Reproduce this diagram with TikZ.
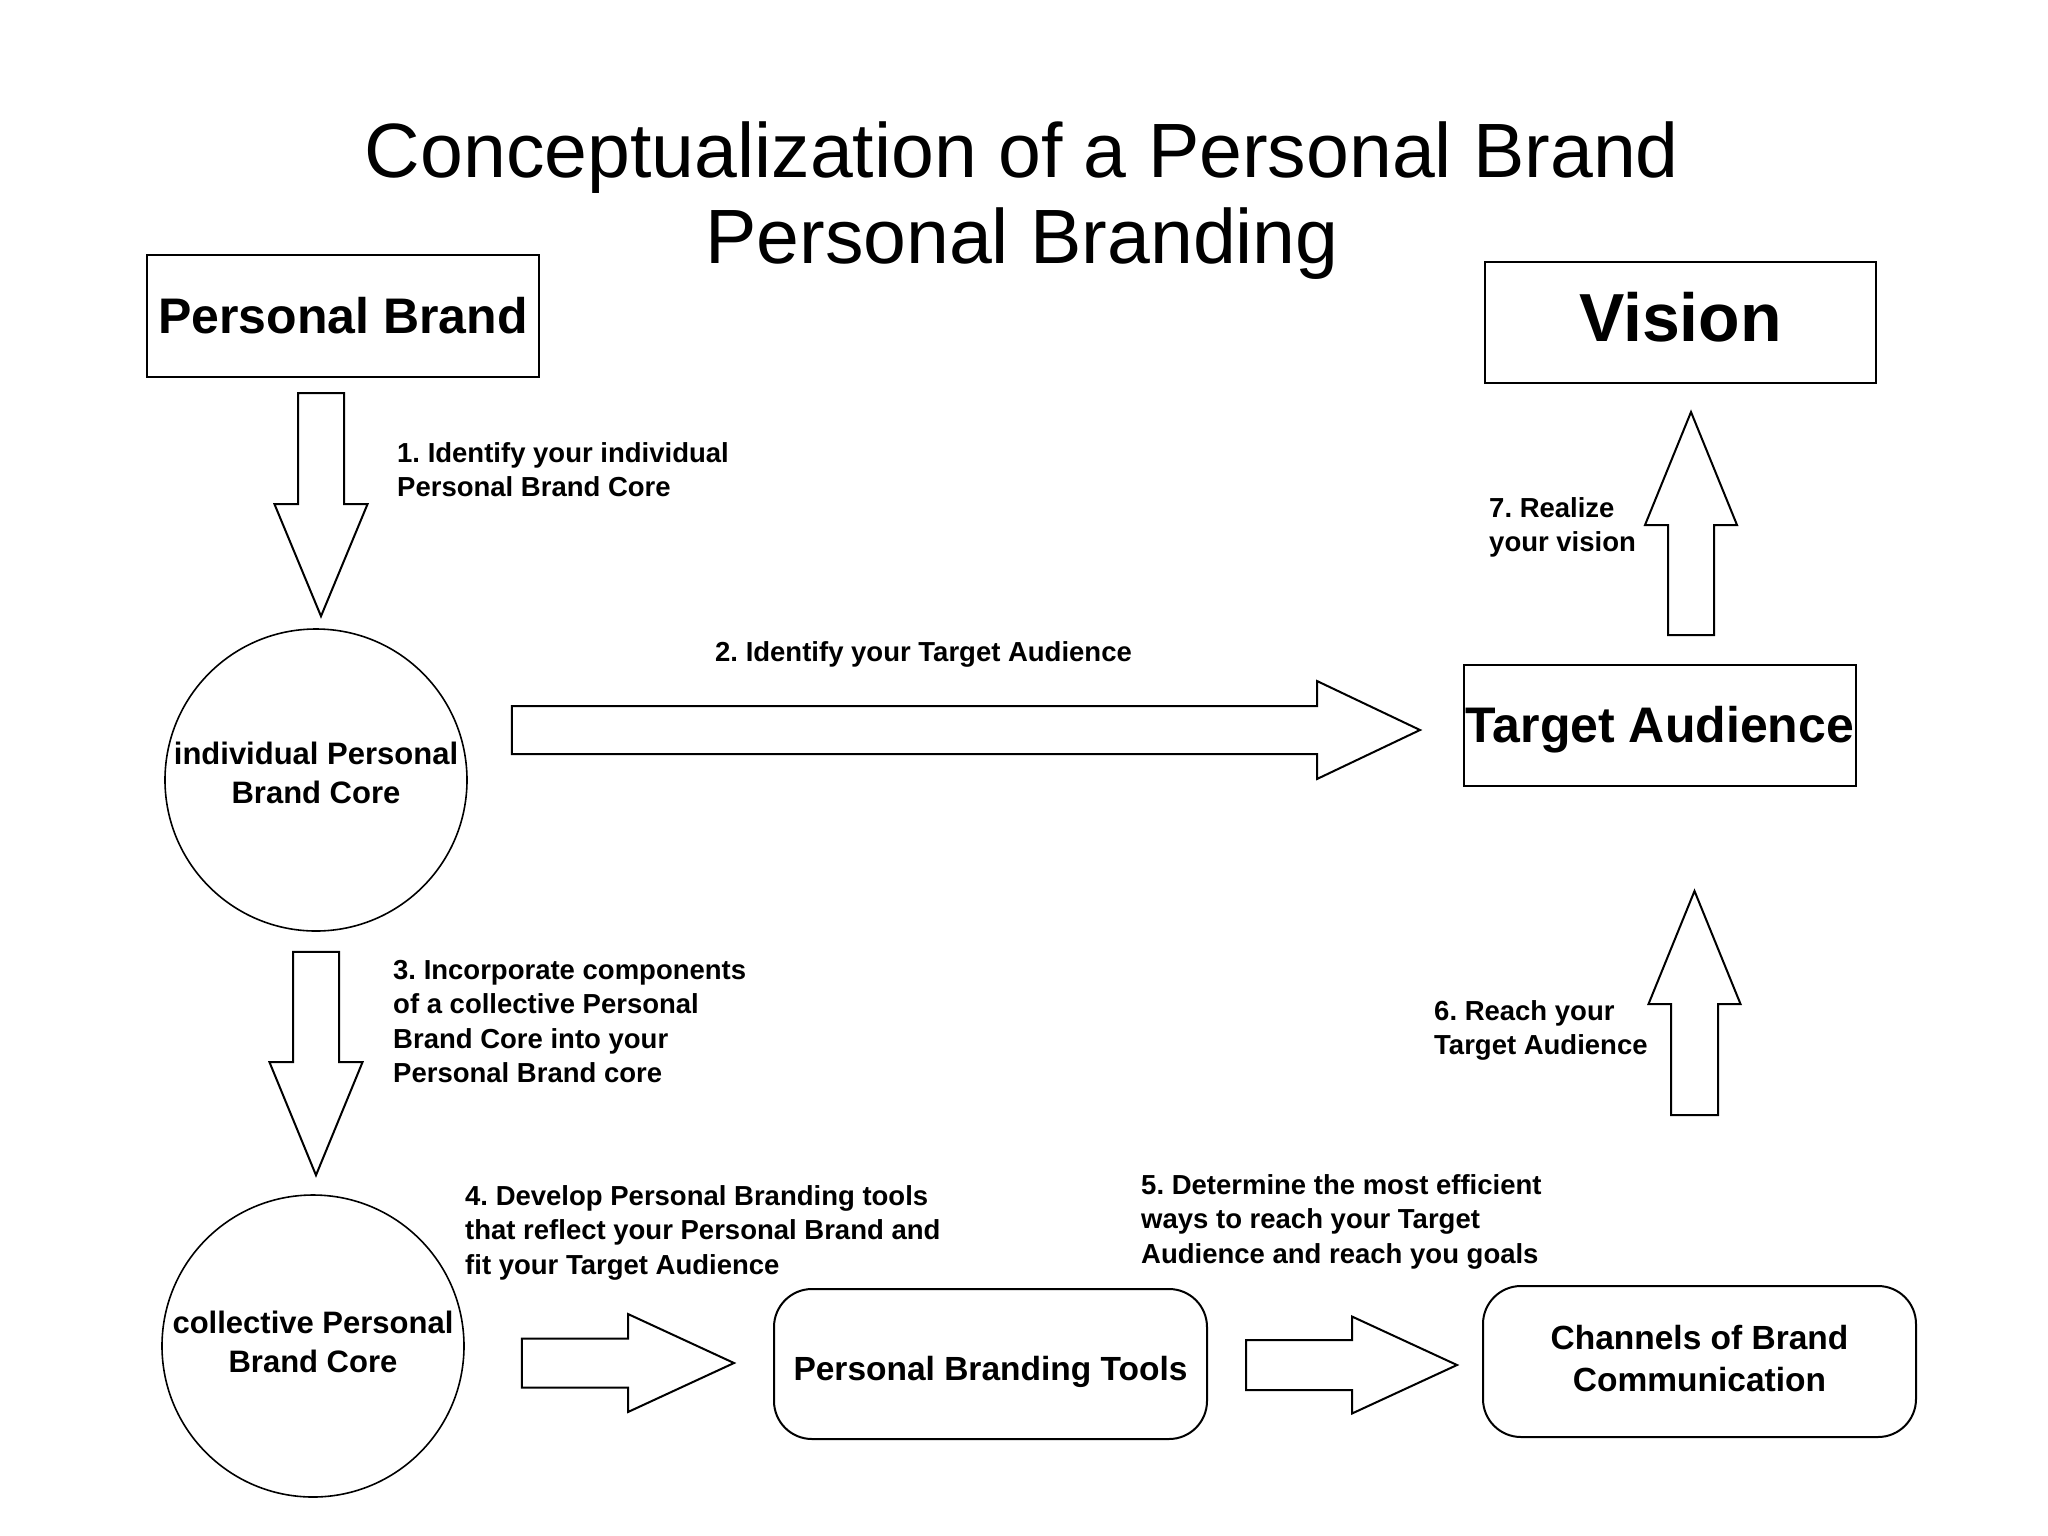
\documentclass[tikz,border=0pt]{standalone}
\usepackage{fontspec}
\setmainfont{Liberation Sans}
\usetikzlibrary{calc}
\frenchspacing
\newcommand\fs[2]{\fontsize{#1}{#2}\selectfont}
\newcommand\nudge[2]{\raisebox{#1}[\height][\depth]{#2}}
\newcommand\lift[2]{\raisebox{#1}[\height][\depth]{\begin{tabular}{@{}c@{}}#2\end{tabular}}}
% block arrow: #1 tail, #2 tip, #3 shaft half width, #4 head half width, #5 head length
\newcommand\blockarrow[5]{%
  \path let \p1=#1, \p2=#2, \n1={atan2(\y2-\y1,\x2-\x1)}, \n2={veclen(\x2-\x1,\y2-\y1)} in
    \pgfextra{\xdef\baAng{\n1}\xdef\baLen{\n2}} (\p1) coordinate (baTail);
  \begin{scope}[shift={(baTail)}, rotate=\baAng, x=1pt, y=1pt]
    \draw[blk] (0,#3) -- ({\baLen-#5},#3) -- ({\baLen-#5},#4) -- (\baLen,0)
      -- ({\baLen-#5},-#4) -- ({\baLen-#5},-#3) -- (0,-#3) -- cycle;
  \end{scope}}
\tikzset{
  box/.style={draw, line width=2pt, inner sep=0pt, align=center},
  rbox/.style={box, rounded corners=38pt},
  circ/.style={draw, circle, line width=1.6pt, inner sep=0pt, align=center, font=\fs{31}{39}\bfseries},
  blk/.style={draw, line width=2pt, fill=white, line join=miter},
  lbl/.style={anchor=north west, inner sep=0pt, align=left, font=\fs{27.5}{34.5}\bfseries},
}
\begin{document}
\begin{tikzpicture}[x=1pt, y=-1pt]
\useasboundingbox[fill=white] (0,0) rectangle (2048,1535);

\node[anchor=north, inner sep=0pt, align=center, font=\fs{77}{86}] (title) at (1022,121)
  {Conceptualization of a Personal Brand\\Personal Branding};

\node[box, minimum width=392pt, minimum height=122pt, font=\fs{50}{60}\bfseries] (pb) at (343,316) {Personal Brand};
\node[box, minimum width=391pt, minimum height=121pt, font=\fs{68}{80}\bfseries] (vision) at (1680.5,322.5) {\nudge{5pt}{Vision}};
\node[box, minimum width=392pt, minimum height=121pt, font=\fs{50}{60}\bfseries] (ta) at (1660,725.5) {\nudge{-4pt}{Target Audience}};
\node[circ, minimum size=302pt] (c1) at (316,780) {\lift{4pt}{individual Personal\\Brand Core}};
\node[circ, minimum size=302pt] (c2) at (313,1346) {\lift{0.5pt}{collective Personal\\Brand Core}};
\node[rbox, minimum width=433pt, minimum height=150pt, font=\fs{33.5}{42}\bfseries] (pbt) at (990.5,1364) {\nudge{-8pt}{Personal Branding Tools}};
\node[rbox, minimum width=433pt, minimum height=151pt, font=\fs{33.5}{42}\bfseries] (ch) at (1699.5,1361.5) {\lift{-1pt}{Channels of Brand\\Communication}};

\blockarrow{($(c1.north |- pb.south)+(5,15)$)}{($(c1.north)+(5,-12)$)}{23}{46.5}{112}
\blockarrow{($(c1.east)+(44,-50)$)}{($(ta.west)+(-43,4.5)$)}{24}{49}{103}
\blockarrow{($(c1.south)+(0,20)$)}{($(c1.south |- c2.north)+(0,-19)$)}{23}{46.5}{113}
\blockarrow{($(c2.east)+(57,17)$)}{($(pbt.west)+(-39,-1)$)}{24.5}{49}{106}
\blockarrow{($(pbt.east)+(38,1)$)}{($(ch.west)+(-25,3.5)$)}{25}{48.5}{105}
\blockarrow{($(ch.north)+(-5,-170)$)}{($(ta.south)+(34.5,104)$)}{23.5}{46}{113}
\blockarrow{($(ta.north)+(31,-29)$)}{($(vision.south)+(10.5,28)$)}{23}{46}{113}

\node[lbl] (l1) at (397,442) {1. Identify your individual\\Personal Brand Core};
\node[lbl] (l2) at (715,641) {2. Identify your Target Audience};
\node[lbl] (l3) at (393,960) {3. Incorporate components\\of a collective Personal\\Brand Core into your\\Personal Brand core};
\node[lbl] (l4) at (465,1185) {4. Develop Personal Branding tools\\that reflect your Personal Brand and\\fit your Target Audience};
\node[lbl] (l5) at (1141,1174) {5. Determine the most efficient\\ways to reach your Target\\Audience and reach you goals};
\node[lbl] (l6) at (1434,1000) {6. Reach your\\Target Audience};
\node[lbl] (l7) at (1489,497) {7. Realize\\your vision};
\end{tikzpicture}
\end{document}
